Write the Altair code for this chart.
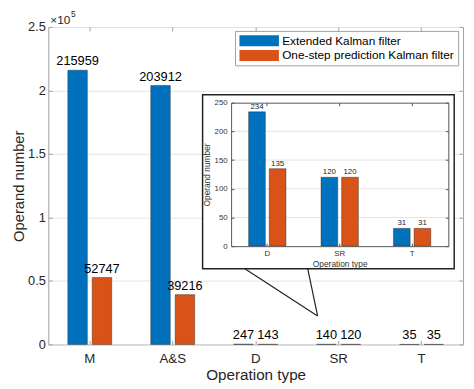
import altair as alt
import pandas as pd

# ---------------- data ----------------
categories = ["M", "A&S", "D", "SR", "T"]
series = ["Extended Kalman filter", "One-step prediction Kalman filter"]
ekf_values = [215959, 203912, 247, 140, 35]
osp_values = [52747, 39216, 143, 120, 35]
main_ticks = [0, 50000, 100000, 150000, 200000, 250000]

inset_categories = ["D", "SR", "T"]
inset_ekf_values = [234, 120, 31]
inset_osp_values = [135, 120, 31]
inset_ticks = [0, 50, 100, 150, 200, 250]
inset_grid = [50, 100, 150, 200]

colors = ["#0072BD", "#D95319"]
FONT = "Liberation Sans"
GRAY = "#a0a0a0"
DARK = "#262626"

# ---------------- layout ----------------
PAD_L, PAD_T, PAD_R = 41, 16, 3
W, H = 422, 323
PAD_B = 381 - PAD_T - H

# inset geometry (plot-relative pixels)
IN_X0, IN_X1 = 186, 407          # inset plot area x
IN_Y0, IN_Y1 = 77, 223           # inset plot area y (top, bottom)
BOX = (157, 413, 69, 246)         # inset frame
TIP = (274, 294)


def long(cats, a, b):
    rows = []
    for c, va, vb in zip(cats, a, b):
        rows.append({"cat": c, "series": series[0], "value": va})
        rows.append({"cat": c, "series": series[1], "value": vb})
    return pd.DataFrame(rows)


main_df = long(categories, ekf_values, osp_values)
inset_df = long(inset_categories, inset_ekf_values, inset_osp_values)
one = pd.DataFrame({"a": [0]})

color_scale = alt.Scale(domain=series, range=colors)
legend = alt.Legend(
    title=None, orient="none", legendX=190, legendY=4,
    symbolType="M-1,-1H6.3V1H-1Z", symbolSize=121, symbolStrokeWidth=0,
    symbolOpacity=1, labelOffset=32, rowPadding=3, padding=4,
    strokeColor=GRAY, fillColor="white", labelFontSize=12,
    labelFont=FONT, labelColor="#000", labelLimit=300,
)

# ---------------- main chart ----------------
x_main = alt.Scale(domain=categories, paddingInner=0, paddingOuter=0)
xo_main = alt.Scale(domain=series, paddingInner=0.2, paddingOuter=0.8)
y_main = alt.Scale(domain=[0, 250000], nice=False)

main_bars = alt.Chart(main_df).mark_bar(stroke="#1a1a1a", strokeWidth=0.4).encode(
    x=alt.X("cat:N", scale=x_main, sort=categories,
            axis=alt.Axis(title="Operation type", labelFontSize=13.5, titleFontSize=15.5,
                          ticks=False, domain=False, labelPadding=7, titlePadding=3,
                          labelColor=DARK, titleColor=DARK, titleFontWeight="normal",
                          labelAngle=0, grid=False, labelFont=FONT, titleFont=FONT)),
    xOffset=alt.XOffset("series:N", scale=xo_main, sort=series),
    y=alt.Y("value:Q", scale=y_main,
            axis=alt.Axis(title="Operand number", values=main_ticks,
                          labelExpr="'' + datum.value / 100000",
                          grid=True, gridColor="#e3e3e3", ticks=False, domain=False,
                          labelPadding=3, titlePadding=1, labelFontSize=13,
                          titleFontSize=15, labelColor=DARK, titleColor=DARK,
                          titleFontWeight="normal", labelFont=FONT, titleFont=FONT)),
    color=alt.Color("series:N", scale=color_scale, sort=series, legend=legend),
)

main_text = alt.Chart(main_df).mark_text(
    fontSize=13, baseline="bottom", dy=-2, font=FONT, color="#000"
).encode(
    x=alt.X("cat:N", scale=x_main, sort=categories, axis=None),
    xOffset=alt.XOffset("series:N", scale=xo_main, sort=series),
    y=alt.Y("value:Q", scale=y_main, axis=None),
    text=alt.Text("value:Q", format="d"),
)


def tick_layer(df, xs, ys, xvals, yvals, x_orient, x_off, y_orient, y_off,
               color, size, domain=False, z=0):
    return alt.Chart(df).mark_point(opacity=0).encode(
        x=alt.X("cat:N", scale=xs, sort=xvals,
                axis=alt.Axis(orient=x_orient, offset=x_off, labels=False, domain=domain,
                              domainColor=color, ticks=True, tickSize=size,
                              tickColor=color, title=None, grid=False, zindex=z)),
        y=alt.Y("value:Q", scale=ys,
                axis=alt.Axis(orient=y_orient, offset=y_off, values=yvals, labels=False,
                              domain=domain, domainColor=color, ticks=True,
                              tickSize=size, tickColor=color, title=None, grid=False,
                              zindex=z)),
    )


main_ticks_tr = tick_layer(main_df, x_main, y_main, categories, main_ticks,
                           "bottom", -H, "left", -W, GRAY, 4)
main_ticks_bl = tick_layer(main_df, x_main, y_main, categories, main_ticks,
                           "top", -H, "right", -W, GRAY, 4)

exp_base = alt.Chart(one).mark_text(
    align="left", baseline="alphabetic", fontSize=12, font=FONT, color=DARK
).encode(x=alt.value(2), y=alt.value(-3), text=alt.value("×10"))
exp_sup = alt.Chart(one).mark_text(
    align="left", baseline="alphabetic", fontSize=8.5, font=FONT, color=DARK
).encode(x=alt.value(23), y=alt.value(-10), text=alt.value("5"))

main_group = alt.layer(
    main_bars, main_text, main_ticks_tr, main_ticks_bl, exp_base, exp_sup
).resolve_axis(x="independent", y="independent")

# ---------------- inset ----------------
x_in = alt.Scale(domain=inset_categories, range=[IN_X0, IN_X1],
                 paddingInner=0, paddingOuter=0)
xo_in = alt.Scale(domain=series, paddingInner=0.19, paddingOuter=0.85)
y_in = alt.Scale(domain=[0, 250], range=[IN_Y1, IN_Y0], nice=False)
IN_GRAY = "#555555"

callout1 = alt.Chart(one).mark_rule(color="#222", strokeWidth=1.2).encode(
    x=alt.value(200), y=alt.value(BOX[3]), x2=alt.value(TIP[0]), y2=alt.value(TIP[1]))
callout2 = alt.Chart(one).mark_rule(color="#222", strokeWidth=1.2).encode(
    x=alt.value(264), y=alt.value(BOX[3]), x2=alt.value(TIP[0]), y2=alt.value(TIP[1]))
frame = alt.Chart(one).mark_rect(fill="white", stroke="#222", strokeWidth=1.5).encode(
    x=alt.value(BOX[0]), x2=alt.value(BOX[1]), y=alt.value(BOX[2]), y2=alt.value(BOX[3]))

grid_df = pd.DataFrame({"value": inset_grid})
inset_gridlines = alt.Chart(grid_df).mark_rule(color="#e3e3e3", strokeWidth=1).encode(
    y=alt.Y("value:Q", scale=y_in, axis=None),
    x=alt.value(IN_X0), x2=alt.value(IN_X1))

inset_bars = alt.Chart(inset_df).mark_bar(stroke="#1a1a1a", strokeWidth=0.4).encode(
    x=alt.X("cat:N", scale=x_in, sort=inset_categories,
            axis=alt.Axis(orient="bottom", offset=IN_Y1 - H, title="Operation type",
                          labelFontSize=8, titleFontSize=8.5, ticks=False, domain=True,
                          domainColor=IN_GRAY, labelPadding=4, titlePadding=2,
                          labelColor="#333", titleColor="#333", titleFontWeight="normal",
                          labelAngle=0, grid=False, zindex=1, labelFont=FONT,
                          titleFont=FONT)),
    xOffset=alt.XOffset("series:N", scale=xo_in, sort=series),
    y=alt.Y("value:Q", scale=y_in,
            axis=alt.Axis(orient="left", offset=-IN_X0, values=inset_ticks,
                          title="Operand number", labelFontSize=8, titleFontSize=8.5,
                          ticks=False, domain=True, domainColor=IN_GRAY, labelPadding=4,
                          titlePadding=3, labelColor="#333", titleColor="#333",
                          titleFontWeight="normal", grid=False, zindex=1,
                          labelFont=FONT, titleFont=FONT)),
    color=alt.Color("series:N", scale=color_scale, sort=series, legend=None),
)

inset_text = alt.Chart(inset_df).mark_text(
    fontSize=8, baseline="bottom", dy=-1, font=FONT, color="#222"
).encode(
    x=alt.X("cat:N", scale=x_in, sort=inset_categories, axis=None),
    xOffset=alt.XOffset("series:N", scale=xo_in, sort=series),
    y=alt.Y("value:Q", scale=y_in, axis=None),
    text=alt.Text("value:Q", format="d"),
)

inset_ticks_tr = tick_layer(inset_df, x_in, y_in, inset_categories, inset_ticks,
                            "bottom", IN_Y0 - H, "left", -IN_X1, IN_GRAY, 3,
                            domain=True, z=1)
inset_ticks_bl = tick_layer(inset_df, x_in, y_in, inset_categories, inset_ticks,
                            "top", -IN_Y1, "right", IN_X0 - W, IN_GRAY, 3,
                            domain=False, z=1)

inset_group = alt.layer(
    callout1, callout2, frame, inset_gridlines, inset_bars, inset_text,
    inset_ticks_tr, inset_ticks_bl
).resolve_axis(x="independent", y="independent")

chart = alt.layer(main_group, inset_group).resolve_scale(
    x="independent", y="independent", xOffset="independent"
).properties(
    width=W, height=H,
    autosize=alt.AutoSizeParams(type="none"),
    padding={"left": PAD_L, "top": PAD_T, "right": PAD_R, "bottom": PAD_B},
    background="white",
).configure_view(stroke=GRAY, strokeWidth=1)

chart.save("out.html", embed_options={"renderer": "svg", "actions": False})
